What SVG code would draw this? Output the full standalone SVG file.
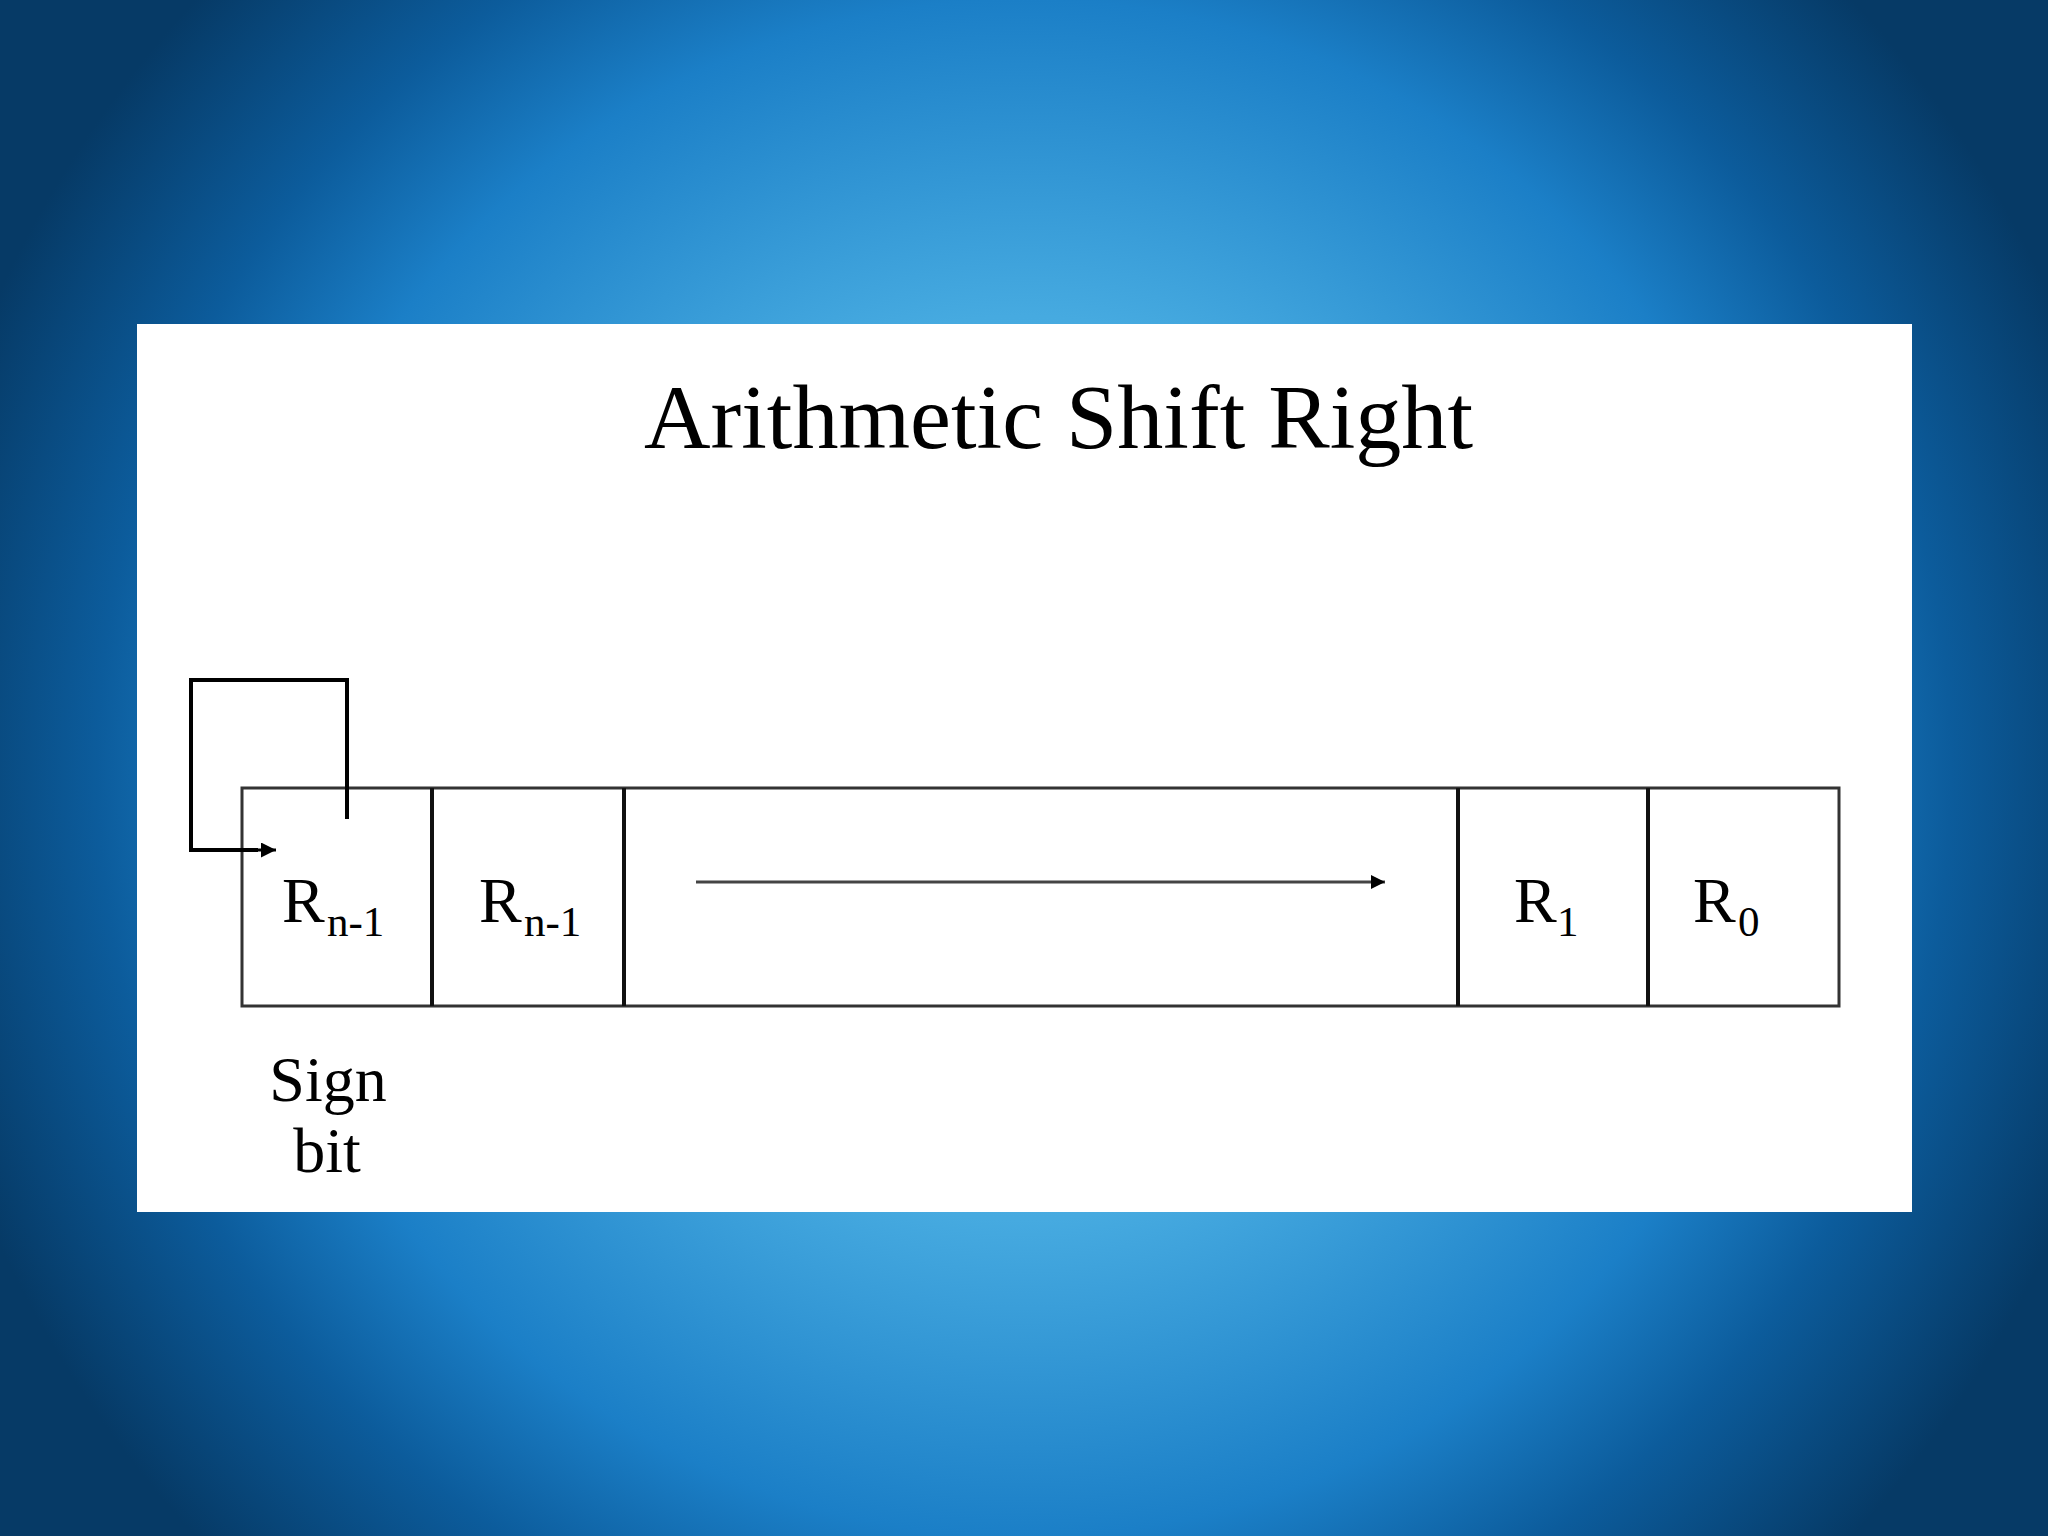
<svg xmlns="http://www.w3.org/2000/svg" width="2048" height="1536" viewBox="0 0 2048 1536">
<defs>
<radialGradient id="bg" gradientUnits="userSpaceOnUse" cx="1024" cy="768" r="1130">
<stop offset="0" stop-color="#5cbbea"/>
<stop offset="0.4" stop-color="#46aae0"/>
<stop offset="0.68" stop-color="#1b7fc7"/>
<stop offset="0.82" stop-color="#0c5c9c"/>
<stop offset="1" stop-color="#063a66"/>
</radialGradient>
<marker id="ah" viewBox="0 0 10 10" refX="10" refY="5" markerUnits="userSpaceOnUse" markerWidth="17" markerHeight="15" orient="auto">
<path d="M0,0 L10,5 L0,10 z" fill="#000"/>
</marker>
<marker id="ah2" viewBox="0 0 10 10" refX="10" refY="5" markerUnits="userSpaceOnUse" markerWidth="17" markerHeight="14" orient="auto">
<path d="M0,0 L10,5 L0,10 z" fill="#000"/>
</marker>
</defs>
<style>
.t{font-family:"Liberation Serif","Times New Roman",serif;fill:#000}
.lbl{font-size:64px}
.sub{font-size:43px}
.cell{fill:none;stroke:#111;stroke-width:4}
.outer{fill:#fff;stroke:#333;stroke-width:3}
.wire{fill:none;stroke:#000;stroke-width:4}
</style>
<rect x="0" y="0" width="2048" height="1536" fill="url(#bg)"/>
<rect x="137" y="324" width="1775" height="888" fill="#fff"/>
<text class="t" x="644" y="448" font-size="90" textLength="829" lengthAdjust="spacingAndGlyphs">Arithmetic Shift Right</text>
<g id="register">
<rect class="outer" x="242" y="788" width="1597" height="218"/>
</g>
<g id="cell-sign">
<line class="cell" x1="432" y1="788" x2="432" y2="1006"/>
<text class="t lbl" x="282" y="922">R<tspan class="sub" x="327" y="936">n-1</tspan></text>
</g>
<g id="cell-n1">
<line class="cell" x1="624" y1="788" x2="624" y2="1006"/>
<text class="t lbl" x="479" y="922">R<tspan class="sub" x="524" y="936">n-1</tspan></text>
</g>
<g id="cell-middle">
<line class="cell" x1="1458" y1="788" x2="1458" y2="1006"/>
</g>
<g id="cell-r1">
<line class="cell" x1="1648" y1="788" x2="1648" y2="1006"/>
<text class="t lbl" x="1514" y="922">R<tspan class="sub" x="1557" y="936">1</tspan></text>
</g>
<g id="cell-r0">
<text class="t lbl" x="1693" y="922">R<tspan class="sub" x="1738" y="936">0</tspan></text>
</g>
<g id="sign-label">
<text class="t lbl" x="328" y="1101" text-anchor="middle">Sign</text>
<text class="t lbl" x="327" y="1172" text-anchor="middle">bit</text>
</g>
<g id="connectors">
<polyline class="wire" points="347,819 347,680 191,680 191,850 258,850"/>
<line x1="255" y1="850" x2="276" y2="850" stroke="#000" stroke-width="3" marker-end="url(#ah)"/>
<line x1="696" y1="882" x2="1385" y2="882" stroke="#444" stroke-width="3" marker-end="url(#ah2)"/>
</g>
</svg>
